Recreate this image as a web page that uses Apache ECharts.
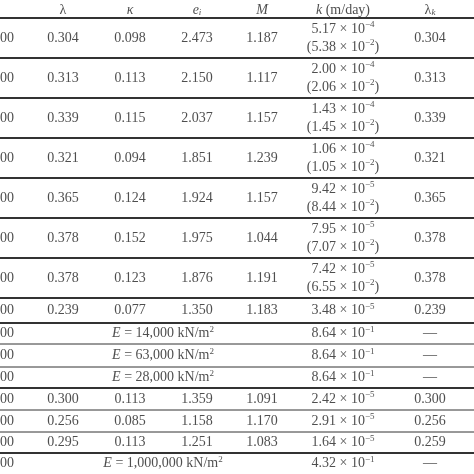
<!DOCTYPE html>
<html><head><meta charset="utf-8">
<script src="https://cdn.jsdelivr.net/npm/echarts@6/dist/echarts.min.js"></script>
<style>html,body{margin:0;padding:0;background:#fff}#main{width:474px;height:474px}</style>
</head><body><div id="main"></div>
<script>
var chartDom = document.getElementById('main');
var myChart = echarts.init(chartDom);

// table values
var firstCol = ['00','00','00','00','00','00','00','00','00','00','00','00','00','00','00'];
var lambda = ['0.304','0.313','0.339','0.321','0.365','0.378','0.378','0.239', null, null, null,'0.300','0.256','0.295', null];
var kappa  = ['0.098','0.113','0.115','0.094','0.124','0.152','0.123','0.077', null, null, null,'0.113','0.085','0.113', null];
var ei     = ['2.473','2.150','2.037','1.851','1.924','1.975','1.876','1.350', null, null, null,'1.359','1.158','1.251', null];
var M      = ['1.187','1.117','1.157','1.239','1.157','1.044','1.191','1.183', null, null, null,'1.091','1.170','1.083', null];
var kMain  = [['5.17','-4'],['2.00','-4'],['1.43','-4'],['1.06','-4'],['9.42','-5'],['7.95','-5'],['7.42','-5'],['3.48','-5'],['8.64','-1'],['8.64','-1'],['8.64','-1'],['2.42','-5'],['2.91','-5'],['1.64','-5'],['4.32','-1']];
var kParen = [['5.38','-2'],['2.06','-2'],['1.45','-2'],['1.05','-2'],['8.44','-2'],['7.07','-2'],['6.55','-2'], null, null, null, null, null, null, null, null];
var lambdaK = ['0.304','0.313','0.339','0.321','0.365','0.378','0.378','0.239','—','—','—','0.300','0.256','0.259','—'];
var elastic = [null, null, null, null, null, null, null, null, '14,000', '63,000', '28,000', null, null, null, '1,000,000'];

// layout
var colX = [0, 63, 130, 197, 262, 343, 430];
var rowTop = [18, 58, 98, 138, 178, 218, 258, 298, 323, 344, 367, 388, 410, 432, 453, 474];
var thick = [18, 58, 98, 138, 178, 218, 258, 298, 323, 388, 453];

function sci(v) {
  return '{n|' + v[0] + ' × 10}{sup|' + v[1].replace('-', '−') + '}';
}
var pts = [];
function add(x, y, txt, align) { pts.push({ value: [x, y], label: { formatter: txt, align: align || 'center' } }); }

add(colX[1], 10, '{n|λ}');
add(colX[2], 10, '{i|κ}');
add(colX[3], 10, '{i|e}{sub|i}');
add(colX[4], 10, '{i|M}');
add(colX[5], 10, '{i|k}{n| (m/day)}');
add(colX[6], 10, '{n|λ}{sub|k}');

for (var r = 0; r < lambda.length; r++) {
  var yc = (rowTop[r] + rowTop[r + 1]) / 2;
  add(0, yc, '{n|' + firstCol[r] + '}', 'left');
  if (elastic[r]) {
    add(163, yc, '{i|E}{n| = ' + elastic[r] + ' kN/m}{sup|2}');
  } else {
    add(colX[1], yc, '{n|' + lambda[r] + '}');
    add(colX[2], yc, '{n|' + kappa[r] + '}');
    add(colX[3], yc, '{n|' + ei[r] + '}');
    add(colX[4], yc, '{n|' + M[r] + '}');
  }
  if (kParen[r]) {
    add(colX[5], yc - 9, sci(kMain[r]));
    add(colX[5], yc + 9, '{n|(}' + sci(kParen[r]) + '{n|)}');
  } else {
    add(colX[5], yc, sci(kMain[r]));
  }
  add(colX[6], yc, '{n|' + lambdaK[r] + '}');
}

var font = 'Liberation Serif';
var option = {
  animation: false,
  grid: { left: 0, right: 0, top: 0, bottom: 0 },
  xAxis: { type: 'value', min: 0, max: 474, show: false },
  yAxis: { type: 'value', min: 0, max: 474, inverse: true, show: false },
  series: [
    {
      type: 'custom',
      data: rowTop.slice(0, 15),
      renderItem: function (params, api) {
        var y = api.value(0);
        var a = api.coord([0, y]), b = api.coord([474, y]);
        var w = thick.indexOf(y) >= 0 ? 2 : 1;
        return { type: 'line', shape: { x1: a[0], y1: a[1], x2: b[0], y2: b[1] },
          style: { stroke: '#333', lineWidth: w } };
      },
      encode: { y: 0 }
    },
    {
      type: 'scatter',
      symbolSize: 0,
      clip: false,
      data: pts,
      label: {
        show: true, position: 'inside', color: '#222',
        rich: {
          n: { fontFamily: font, fontSize: 14, color: '#222' },
          i: { fontFamily: font, fontSize: 14, fontStyle: 'italic', color: '#222' },
          sup: { fontFamily: font, fontSize: 9, color: '#222', padding: [0, 0, 8, 0] },
          sub: { fontFamily: font, fontSize: 9, fontStyle: 'italic', color: '#222', padding: [6, 0, 0, 0] }
        }
      }
    }
  ]
};
option && myChart.setOption(option);
</script></body></html>
